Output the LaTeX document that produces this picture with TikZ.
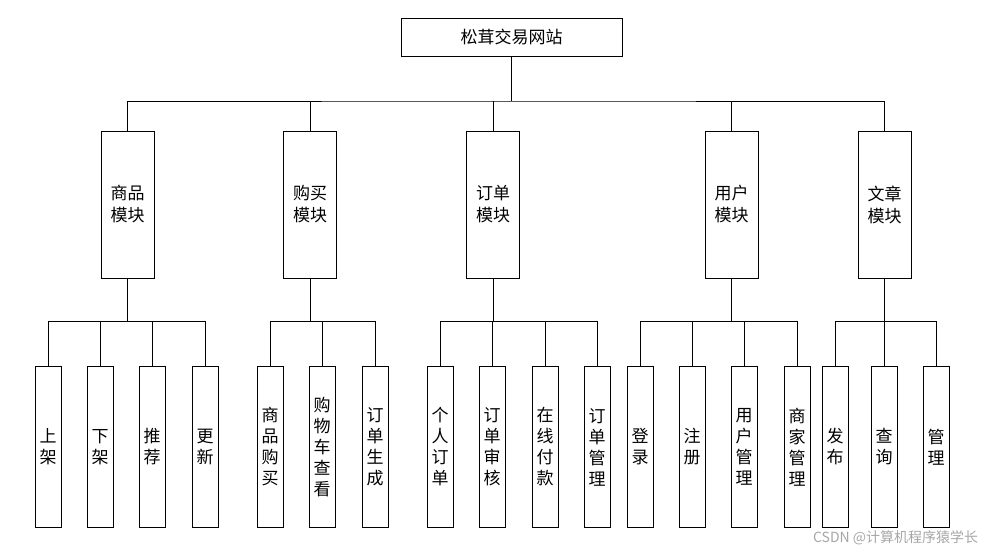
\documentclass[tikz,border=0pt]{standalone}
\usepackage{fontspec}
\setmainfont{Noto Sans CJK SC}
\begin{document}
\begin{tikzpicture}[x=1pt,y=-1pt,line width=1pt,
  box/.style={draw=black,inner sep=0pt,align=center,font=\fontsize{17}{22}\selectfont},
  mid/.style={box,minimum width=53pt,minimum height=147pt},
  leaf/.style={box,minimum width=26pt,minimum height=161pt,font=\fontsize{17}{21}\selectfont}]
\useasboundingbox (0,0) rectangle (985,555);
\node[box,minimum width=221pt,minimum height=38pt] (root) at (511.5,37) {松茸交易网站};
\foreach \n/\x/\t in {m1/127.5/商品\\模块, m2/310/购买\\模块, m3/493/订单\\模块, m4/731.5/用户\\模块, m5/884.5/文章\\模块}{
  \node[mid] (\n) at (\x,204.5) {\t};
}
\coordinate (rj) at (511.5,101);
\draw (root.south) -- (rj);
\draw (m1.north) |- (rj) -| (m5.north);
\foreach \n in {m2,m3,m4} \draw (\n.north) -- (\n.north |- rj);
% leaves
\foreach \n/\x/\t in {a1/48/上\\架, a2/100/下\\架, a3/152/推\\荐, a4/205/更\\新,
  b1/270/商\\品\\购\\买, b2/322/购\\物\\车\\查\\看, b3/375/订\\单\\生\\成,
  c1/440/个\\人\\订\\单, c2/492/订\\单\\审\\核, c3/545/在\\线\\付\\款, c4/597/订\\单\\管\\理,
  d1/640/登\\录, d2/692/注\\册, d3/744/用\\户\\管\\理, d4/797/商\\家\\管\\理,
  e1/835/发\\布, e2/884/查\\询, e3/936/管\\理}{
  \node[leaf] (\n) at (\x,447) {\t};
}
\foreach \m/\first/\last/\others in {m1/a1/a4/{a2,a3}, m2/b1/b3/{b2}, m3/c1/c4/{c2,c3}, m4/d1/d4/{d2,d3}, m5/e1/e3/{e2}}{
  \coordinate (j\m) at ([yshift=-43pt]\m.south);
  \draw (\m.south) -- (j\m);
  \draw (\first.north) |- (j\m) -| (\last.north);
  \foreach \o in \others \draw (\o.north) -- (\o.north |- j\m);
}
\node[text=gray!70,font=\fontsize{14}{16}\selectfont,anchor=east] (wm) at (982,538) {CSDN @计算机程序猿学长};
\end{tikzpicture}
\end{document}
